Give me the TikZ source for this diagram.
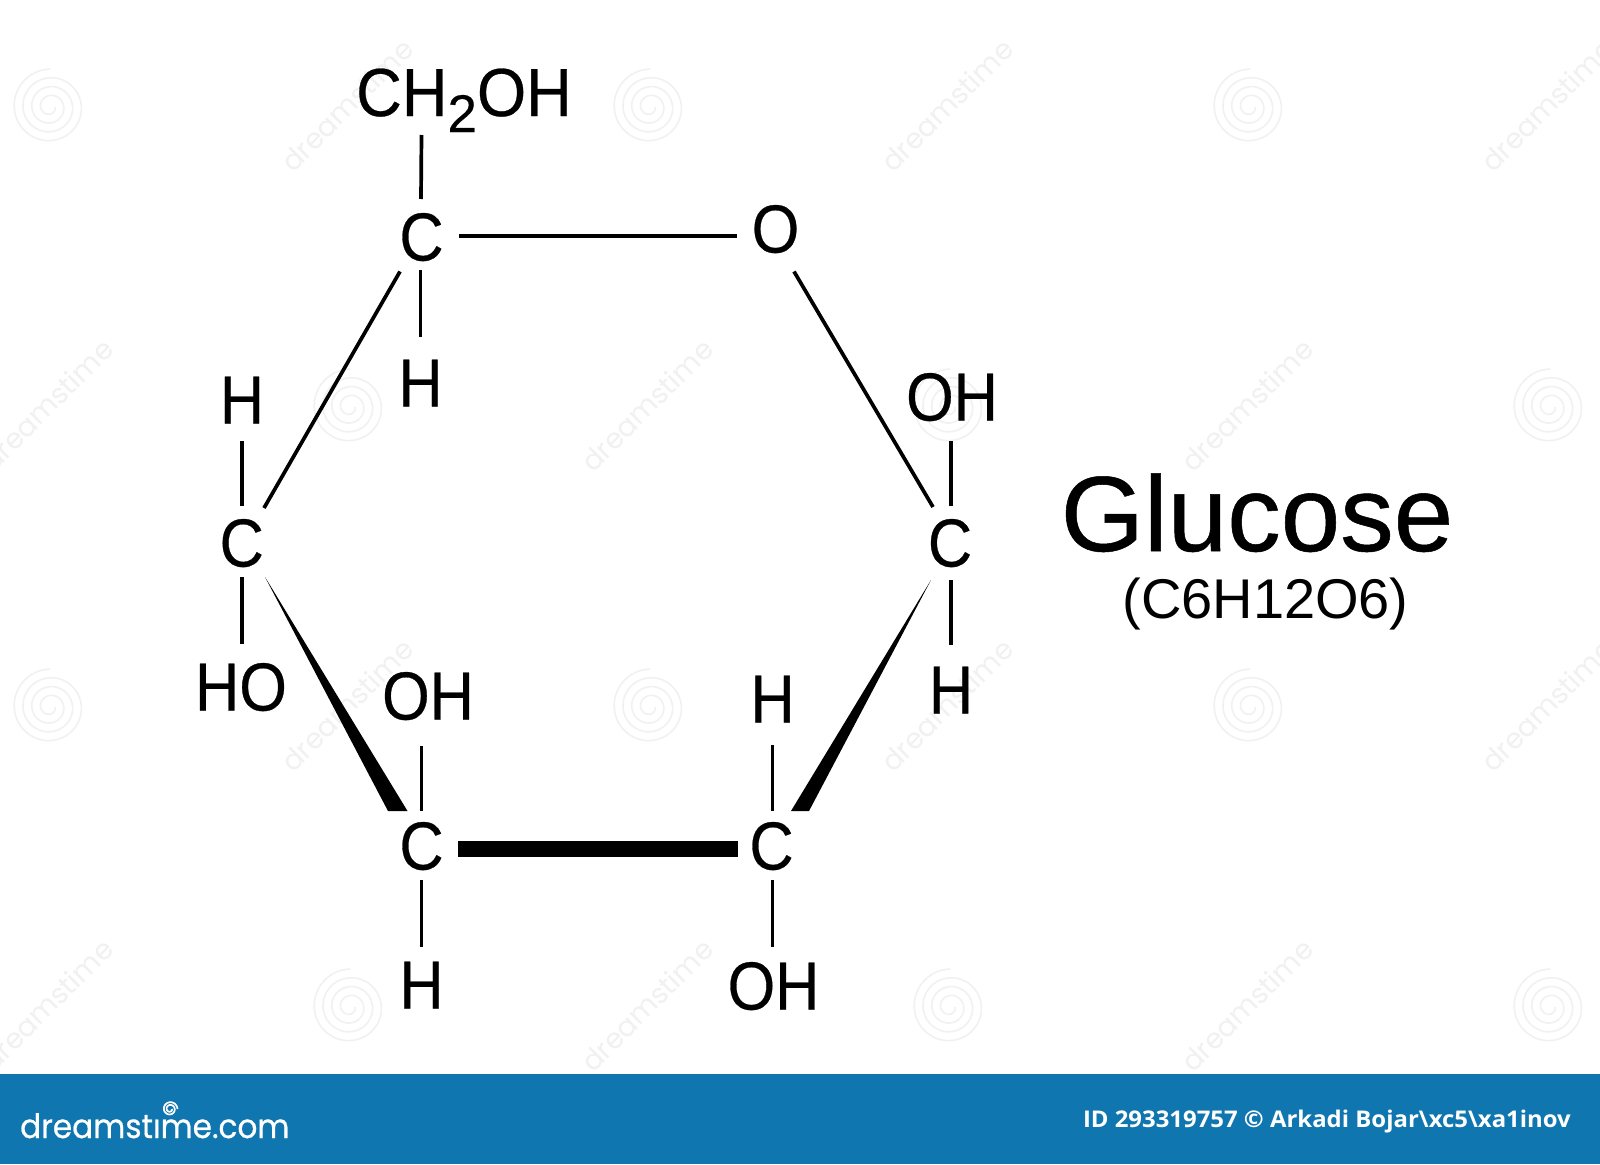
\documentclass[tikz,border=0pt]{standalone}
\usepackage{fontspec}
\setmainfont{Liberation Sans}
\newfontfamily\chem[FakeStretch=0.9,FakeBold=0.4]{Liberation Sans}
\newfontfamily\chemwide[FakeStretch=0.93,FakeBold=0.4]{Liberation Sans}
\newfontfamily\subfont[FakeBold=0.4]{Liberation Sans}
\newfontfamily\titlefont[FakeBold=0.5]{Liberation Sans}
\newfontfamily\idfont[FakeStretch=1.04]{Open Sans}
\newfontfamily\logofont[FakeStretch=0.93,FakeBold=0.6]{Poppins}
\newfontfamily\wmfont{Poppins}
\definecolor{barblue}{HTML}{1076AF}
\definecolor{wm}{HTML}{F1F1F1}
\tikzset{
  atom/.style={font=\chem\fontsize{68}{68}\selectfont, inner sep=0pt, text height=45pt, text depth=0pt},
  bond/.style={line width=3.7pt, line cap=butt},
  wedge/.style={fill=black, draw=none},
  heavy/.style={line width=16pt, line cap=butt},
  wmring/.style={draw=wm, line width=1.6pt},
  wmtext/.style={text=wm, font=\wmfont\fontsize{28}{28}\selectfont, rotate=45}
}
\begin{document}
\begin{tikzpicture}[x=1pt,y=-1pt]
\useasboundingbox (0,0) rectangle (1600,1164);
\fill[white] (0,0) rectangle (1600,1164);
% watermark
\foreach \p/\q in {50/107,650/107,1250/107,350/407,950/407,1550/407,50/707,650/707,1250/707,350/1007,950/1007,1550/1007}{
  \draw[wmring] plot[domain=0:1350, samples=140, smooth] ({\p+(5+33*(\x/1350))*cos(\x)}, {\q+(5+33*(\x/1350))*sin(\x)});
}
\foreach \p/\q in {347/105,947/105,1547/105,47/405,647/405,1247/405,347/705,947/705,1547/705,47/1005,647/1005,1247/1005}{
  \node[wmtext] (wm\p\q) at (\p,\q) {dreamstime};
}
% atoms
\node[atom, font=\chemwide\fontsize{68}{68}\selectfont] (ch2oh) at (464,93.5) {CH\raisebox{-16pt}{\subfont\fontsize{53}{53}\selectfont 2}OH};
\node[atom] (c1) at (421.5,238) {C};
\node[atom] (o) at (775.5,230) {O};
\node[atom] (c2) at (950,544) {C};
\node[atom] (c3) at (771.5,847) {C};
\node[atom] (c4) at (421.5,847) {C};
\node[atom] (c5) at (241.7,544) {C};
\node[atom] (h1) at (420.5,384) {H};
\node[atom] (oh2) at (952,398) {OH};
\node[atom] (h2) at (951,691) {H};
\node[atom] (h3) at (772.5,700) {H};
\node[atom] (oh3) at (773.5,987) {OH};
\node[atom] (oh4) at (428,697) {OH};
\node[atom] (h4) at (421.5,986) {H};
\node[atom] (ho5) at (241,688) {HO};
\node[atom] (h5) at (242,401) {H};
\node[font=\titlefont\fontsize{107}{107}\selectfont, inner sep=0pt, text height=76pt, text depth=0pt] (title) at (1257,513) {Glucose};
\node[font=\fontsize{56}{56}\selectfont, inner sep=0pt, text height=40pt, text depth=0pt] (formula) at (1265.5,598) {(C6H12O6)};
% bonds
\draw[bond] ([shift={(-.5,-39)}]c1.center) -- ([shift={(-42.5,41.5)}]ch2oh.center);
\draw[bond] ([shift={(37.5,-2)}]c1.center) -- ([shift={(-38.5,6)}]o.center);
\draw[bond] ([shift={(-1,32)}]c1.center) -- ([shift={(0,-47)}]h1.center);
\draw[bond] ([shift={(-21.5,33.5)}]c1.center) -- ([shift={(22.3,-36)}]c5.center);
\draw[bond] ([shift={(18.5,41.5)}]o.center) -- ([shift={(-17,-37)}]c2.center);
\draw[bond] ([shift={(1,-38)}]c2.center) -- ([shift={(-1,43)}]oh2.center);
\draw[bond] ([shift={(1,36)}]c2.center) -- ([shift={(0,-46)}]h2.center);
\fill[wedge] ([shift={(-19,36)}]c2.center) -- ([shift={(37.5,-36)}]c3.center) -- ([shift={(19.5,-36)}]c3.center) -- cycle;
\draw[bond] ([shift={(1,-36)}]c3.center) -- ([shift={(0,45)}]h3.center);
\draw[bond] ([shift={(1,33)}]c3.center) -- ([shift={(-1,-40)}]oh3.center);
\draw[heavy] ([shift={(36.5,2)}]c4.center) -- ([shift={(-33.5,2)}]c3.center);
\draw[bond] ([shift={(0,-36)}]c4.center) -- ([shift={(-6.5,49)}]oh4.center);
\draw[bond] ([shift={(0,33)}]c4.center) -- ([shift={(0,-39)}]h4.center);
\draw[bond] ([shift={(0,33)}]c5.center) -- ([shift={(.7,-44)}]ho5.center);
\draw[bond] ([shift={(0,-38)}]c5.center) -- ([shift={(-.3,40)}]h5.center);
\fill[wedge] ([shift={(23.3,33)}]c5.center) -- ([shift={(-14,-36)}]c4.center) -- ([shift={(-33.5,-36)}]c4.center) -- cycle;
% footer
\fill[barblue] (0,1074) rectangle (1600,1164);
\node[text=white, font=\logofont\fontsize{33.5}{33.5}\selectfont, inner sep=0pt, anchor=base west] (logo) at (20,1138) {dreamst{\char"0131}me.com};
\draw[white, line width=1.7pt] plot[domain=0:720, samples=50, smooth] ({170+(2+5.5*(\x/720))*cos(\x)}, {1109+(2+5.5*(\x/720))*sin(\x)});
\node[text=white, font=\idfont\bfseries\fontsize{23}{23}\selectfont, inner sep=0pt, anchor=base east] (credit) at (1571,1127) {ID 293319757 © Arkadi Bojar\textbackslash xc5\textbackslash xa1inov};
\end{tikzpicture}
\end{document}
